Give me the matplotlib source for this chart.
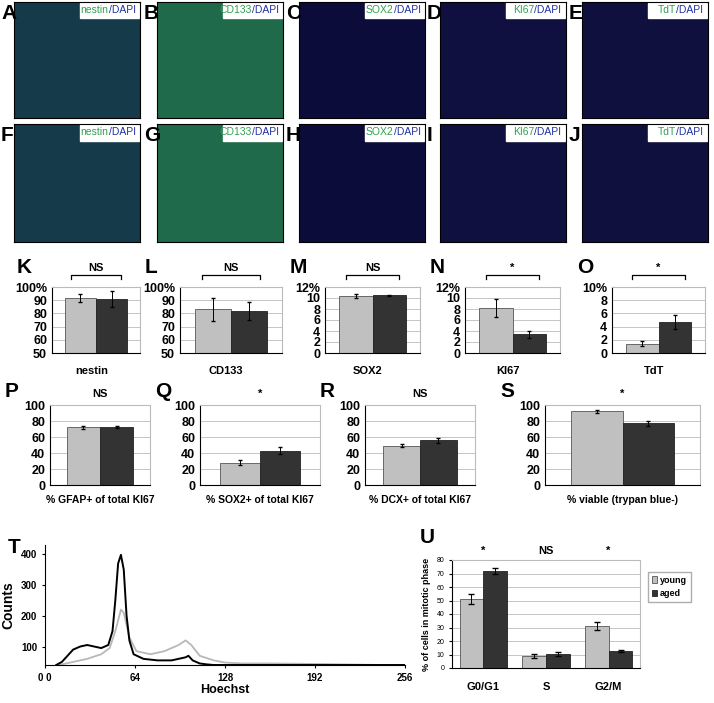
import matplotlib
matplotlib.use("Agg")
import matplotlib.pyplot as plt
import numpy as np

W, H = 714, 703
YOUNG = "#c0c0c0"
AGED = "#333333"

# ── data ─────────────────────────────────────────────────────────────────────
top_names = ["nestin", "CD133", "SOX2", "KI67", "TdT"]
top_young = [92, 83, 10.4, 8.2, 1.4]
top_aged = [91, 82, 10.5, 3.4, 4.7]
top_young_err = [3, 9, 0.4, 1.6, 0.4]
top_aged_err = [6, 7, 0.1, 0.6, 1.1]
top_ylim = [(50, 100), (50, 100), (0, 12), (0, 12), (0, 10)]
top_sig = ["NS", "NS", "NS", "*", "*"]

mid_names = ["% GFAP+ of total KI67", "% SOX2+ of total KI67",
             "% DCX+ of total KI67", "% viable (trypan blue-)"]
mid_young = [72, 28, 49, 92]
mid_aged = [73, 43, 56, 77]
mid_young_err = [1.5, 3, 2, 2]
mid_aged_err = [1.2, 4, 3, 3]
mid_sig = ["NS", "*", "NS", "*"]

phases = ["G0/G1", "S", "G2/M"]
phase_young = [51, 9, 31]
phase_aged = [72, 10.5, 12.5]
phase_young_err = [3.5, 1.5, 3]
phase_aged_err = [2, 1.5, 1]
phase_sig = ["*", "NS", "*"]

hist_black_x = [8, 12, 16, 20, 25, 30, 35, 40, 45, 48, 50, 52, 54, 56, 58, 60,
                63, 70, 80, 90, 100, 102, 105, 110, 115, 120, 256]
hist_black_y = [40, 50, 70, 90, 100, 105, 100, 95, 105, 150, 250, 370, 398, 350,
                200, 120, 75, 60, 55, 55, 65, 70, 55, 45, 42, 40, 40]
hist_gray_x = [10, 20, 30, 40, 46, 50, 54, 56, 60, 65, 75, 85, 95, 100, 104,
               110, 120, 128, 140, 160, 200, 240, 256]
hist_gray_y = [40, 50, 60, 75, 95, 150, 220, 210, 130, 85, 75, 85, 105, 120,
               105, 70, 55, 48, 45, 45, 43, 40, 40]

micro_labels = ["A", "B", "C", "D", "E", "F", "G", "H", "I", "J"]
micro_markers = ["nestin", "CD133", "SOX2", "KI67", "TdT"] * 2

fig = plt.figure(figsize=(W / 100, H / 100), dpi=100)
plt.rcParams["font.family"] = ["Liberation Sans", "DejaVu Sans"]


def px_axes(x0, y0, x1, y1):
    return fig.add_axes([x0 / W, 1 - y1 / H, (x1 - x0) / W, (y1 - y0) / H])


def letter(x, y, s):
    fig.text(x / W, 1 - y / H, s, fontsize=15, fontweight="bold", va="top")


# ── microscopy panels (placeholders) ─────────────────────────────────────────
img_x = [(14, 140), (157, 283), (299, 425), (440, 566), (582, 708)]
img_y = [(2, 118), (124, 242)]
bgs = ["#153a4a", "#1f6a4a", "#0c0c3a", "#101040", "#10103e"]
for r, (y0, y1) in enumerate(img_y):
    for c, (x0, x1) in enumerate(img_x):
        ax = px_axes(x0, y0, x1, y1)
        ax.set_facecolor(bgs[c])
        ax.set_xticks([])
        ax.set_yticks([])
        i = r * 5 + c
        ax.add_patch(plt.Rectangle((0.52, 0.86), 0.47, 0.13, color="white",
                                   transform=ax.transAxes))
        t = ax.text(0.75, 0.975, micro_markers[i], color="#30a050", fontsize=7.5,
                    ha="right", va="top", transform=ax.transAxes)
        ax.text(0.75, 0.975, "/DAPI", color="#2030a0", fontsize=7.5,
                ha="left", va="top", transform=ax.transAxes)
        letter(x0 - 13, y0 + 2, micro_labels[i])


def bracket(ax, txt, y):
    ax.plot([0.22, 0.22, 0.78, 0.78], [y - 0.06, y, y, y - 0.06],
            transform=ax.transAxes, color="black", lw=0.9, clip_on=False)
    ax.text(0.5, y + 0.03, txt, transform=ax.transAxes, ha="center",
            va="bottom", fontsize=8, fontweight="bold")


def bars(ax, yv, av, ye, ae, x=0.0):
    ax.bar([x - 0.3], [yv], 0.6, yerr=[ye], color=YOUNG, edgecolor="#555",
           lw=0.6, error_kw=dict(lw=0.7, capsize=1.5))
    ax.bar([x + 0.3], [av], 0.6, yerr=[ae], color=AGED, edgecolor="#222",
           lw=0.6, error_kw=dict(lw=0.7, capsize=1.5))


def style(ax):
    ax.yaxis.grid(True, color="#bbbbbb", lw=0.6)
    ax.set_axisbelow(True)
    for s in ["top", "right"]:
        ax.spines[s].set_color("#bbbbbb")
    ax.tick_params(axis="y", length=0, labelsize=9)
    for lab in ax.get_yticklabels():
        lab.set_fontweight("bold")
    ax.set_xticks([])


# ── K-O ──────────────────────────────────────────────────────────────────────
top_x = [(52, 140), (180, 282), (325, 420), (465, 560), (612, 705)]
top_letters = ["K", "L", "M", "N", "O"]
for i in range(5):
    x0, x1 = top_x[i]
    ax = px_axes(x0, 287, x1, 353)
    bars(ax, top_young[i], top_aged[i], top_young_err[i], top_aged_err[i])
    lo, hi = top_ylim[i]
    ax.set_ylim(lo, hi)
    ax.set_xlim(-0.85, 0.85)
    step = 10 if hi == 100 else 2
    ticks = list(range(lo, hi + 1, step))
    ax.set_yticks(ticks)
    ax.set_yticklabels([str(t) if t != hi else f"{t}%" for t in ticks])
    style(ax)
    bracket(ax, top_sig[i], 1.18)
    ax.text(0.45, -0.2, top_names[i], transform=ax.transAxes, ha="center",
            va="top", fontsize=8, fontweight="bold")
    letter(x0 - 35, 258, top_letters[i])

# ── P-S ──────────────────────────────────────────────────────────────────────
mid_x = [(50, 150), (200, 320), (365, 475), (545, 700)]
mid_letters = ["P", "Q", "R", "S"]
for i in range(4):
    x0, x1 = mid_x[i]
    ax = px_axes(x0, 405, x1, 485)
    bars(ax, mid_young[i], mid_aged[i], mid_young_err[i], mid_aged_err[i])
    ax.set_ylim(0, 100)
    ax.set_xlim(-0.9, 0.9)
    ax.set_yticks(range(0, 101, 20))
    style(ax)
    ax.text(0.5, 1.08, mid_sig[i], transform=ax.transAxes, ha="center",
            va="bottom", fontsize=8, fontweight="bold")
    ax.text(0.5, -0.12, mid_names[i], transform=ax.transAxes, ha="center",
            va="top", fontsize=7.5, fontweight="bold")
    letter(x0 - 45, 382, mid_letters[i])

# ── T histogram ──────────────────────────────────────────────────────────────
ax = px_axes(45, 545, 405, 665)
ax.plot(hist_gray_x, hist_gray_y, color="#b8b8b8", lw=1.3)
ax.plot(hist_black_x, hist_black_y, color="black", lw=1.4)
ax.set_xlim(0, 256)
ax.set_ylim(40, 430)
ax.set_xticks([0, 64, 128, 192, 256])
ax.set_xticklabels(["0 0", "64", "128", "192", "256"], fontsize=7, fontweight="bold")
ax.set_yticks([100, 200, 300, 400])
ax.set_yticklabels(["100", "200", "300", "400"], fontsize=7, fontweight="bold")
ax.tick_params(length=2)
for s in ["top", "right"]:
    ax.spines[s].set_visible(False)
ax.set_xlabel("Hoechst", fontsize=9, fontweight="bold", labelpad=1)
ax.set_ylabel("Counts", fontsize=10, fontweight="bold")
letter(8, 538, "T")

# ── U cell cycle ─────────────────────────────────────────────────────────────
ax = px_axes(452, 560, 640, 668)
xs = np.arange(len(phases))
ax.bar(xs - 0.19, phase_young, 0.38, yerr=phase_young_err, color=YOUNG,
       edgecolor="#555", lw=0.6, label="young", error_kw=dict(lw=0.7, capsize=2))
ax.bar(xs + 0.19, phase_aged, 0.38, yerr=phase_aged_err, color=AGED,
       edgecolor="#222", lw=0.6, label="aged", error_kw=dict(lw=0.7, capsize=2))
ax.set_ylim(0, 80)
ax.set_xlim(-0.5, 2.5)
ax.set_yticks(range(0, 81, 10))
ax.yaxis.grid(True, color="#bbbbbb", lw=0.6)
ax.set_axisbelow(True)
ax.tick_params(axis="y", length=2, labelsize=5)
ax.set_xticks(xs)
ax.set_xticklabels(phases, fontsize=8, fontweight="bold")
ax.tick_params(axis="x", length=0, pad=10)
for s in ["top", "right"]:
    ax.spines[s].set_color("#bbbbbb")
ax.set_ylabel("% of cells in mitotic phase", fontsize=6.5, fontweight="bold")
for i, s in enumerate(phase_sig):
    ax.text(xs[i], 83, s, ha="center", va="bottom", fontsize=8, fontweight="bold")
ax.legend(loc="upper left", bbox_to_anchor=(1.02, 0.93), fontsize=6.5,
          handlelength=0.6, handletextpad=0.3, borderpad=0.4, frameon=True,
          fancybox=False, edgecolor="#999", prop=dict(weight="bold", size=6.5))
letter(420, 528, "U")

fig.savefig("out.png", dpi=100)
